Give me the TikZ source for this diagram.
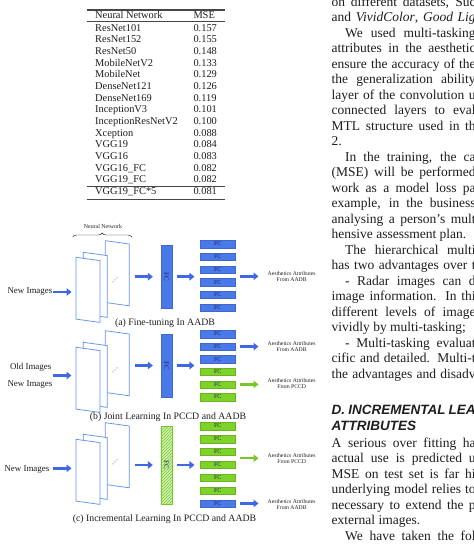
\documentclass[tikz,border=0pt]{standalone}
\usepackage{fontspec}
\setmainfont{Liberation Serif}
\newfontfamily\headfont{Liberation Sans}
\usetikzlibrary{arrows.meta,patterns,decorations.pathreplacing}

\definecolor{fcblue}{RGB}{74,122,234}
\definecolor{arblue}{RGB}{62,104,228}
\definecolor{fctext}{RGB}{25,35,95}
\definecolor{fcgreen}{RGB}{126,211,40}
\definecolor{argreen}{RGB}{118,200,40}
\definecolor{lightgreen}{RGB}{208,242,180}
\definecolor{panelblue}{RGB}{100,148,236}
\definecolor{ink}{RGB}{30,30,30}
\definecolor{rulegray}{RGB}{70,70,70}

\newcommand{\drawimgstack}[2]{%
  \draw[panelbox] ({#1+29.3},{#2-16.6}) -- ++(24,3.3) -- ++(0,61.8) -- ++(-24,-3.3) -- cycle;
  \draw[panelbox] ({#1+7.3},{#2-5}) -- ++(24,3.3) -- ++(0,61.8) -- ++(-24,-3.3) -- cycle;
  \draw[panelbox] (#1,#2) -- ++(24,3.3) -- ++(0,61.8) -- ++(-24,-3.3) -- cycle;
  \fill[ink] ({#1+37},{#2+24.5}) circle (0.45) ({#1+39},{#2+22.5}) circle (0.45) ({#1+41},{#2+20.5}) circle (0.45);
}

\begin{document}
\begin{tikzpicture}[x=1pt,y=-1pt,
  panelbox/.style={draw=panelblue,line width=0.75pt,fill=white,line join=round},
  fcbar/.style={draw=fcblue!85!black,line width=0.3pt,fill=fcblue,minimum width=11.6pt,inner sep=0pt,font=\fontsize{7}{7}\selectfont,text=fctext},
  fchatch/.style={draw=argreen,line width=0.4pt,fill=lightgreen,minimum width=11.6pt,inner sep=0pt,font=\fontsize{7}{7}\selectfont,text=fctext,
     postaction={pattern=north east lines,pattern color=argreen}},
  fcb/.style={draw=fcblue!85!black,line width=0.3pt,fill=fcblue,minimum width=35pt,minimum height=7.5pt,inner sep=0pt,font=\fontsize{6}{6}\selectfont,text=fctext},
  fcg/.style={fcb,fill=fcgreen,draw=fcgreen!85!black},
  barrow/.style={draw=arblue,line width=2.5pt,-{Triangle[length=5pt,width=7.5pt]}},
  garrow/.style={draw=argreen,line width=2.5pt,-{Triangle[length=5pt,width=7.5pt]}},
  lbl/.style={font=\fontsize{5.7}{6}\selectfont,align=center,text=ink,inner sep=0pt},
  intext/.style={font=\fontsize{8.9}{9}\selectfont,text=ink,inner sep=0pt},
  capt/.style={font=\fontsize{9.8}{10}\selectfont,text=ink,inner sep=0pt},
  tcell/.style={anchor=base west,inner sep=0pt,font=\fontsize{10.4}{11}\selectfont,text=ink},
  rtext/.style={anchor=base west,inner sep=0pt,font=\fontsize{13.5}{15}\selectfont,text=ink},
  rhead/.style={anchor=base west,inner sep=0pt,font=\headfont\bfseries\itshape\fontsize{13.5}{15}\selectfont,text=ink}
]
\useasboundingbox (0,0) rectangle (474,544);
\fill[white] (0,0) rectangle (474,544);

% ---------------- table ----------------
\draw[rulegray,line width=1.2pt] (86.7,10) -- (225,10);
\draw[rulegray,line width=0.6pt] (86.7,21.7) -- (225,21.7);
\draw[rulegray,line width=0.6pt] (86.7,186.7) -- (225,186.7);
\draw[rulegray,line width=1.2pt] (86.7,199.3) -- (225,199.3);
\node[tcell] (th1) at (95,18.4) {Neural Network};
\node[tcell] (th2) at (193.3,18.4) {MSE};
\foreach \nm/\vl [count=\i] in {ResNet101/0.157,ResNet152/0.155,ResNet50/0.148,MobileNetV2/0.133,MobileNet/0.129,DenseNet121/0.126,DenseNet169/0.119,InceptionV3/0.101,InceptionResNetV2/0.100,Xception/0.088,VGG19/0.084,VGG16/0.083,VGG16\_FC/0.082,VGG19\_FC/0.082,VGG19\_FC*5/0.081}{
  \node[tcell] (tn\i) at (95,{31.1+11.67*(\i-1)}) {\nm};
  \node[tcell] (tv\i) at (193.3,{31.1+11.67*(\i-1)}) {\vl};
}

% ---------------- diagram ----------------
\node[font=\fontsize{5.9}{6}\selectfont,text=ink,inner sep=0pt] (nnlabel) at (103,226.5) {Neural Network};
\draw[ink,line width=0.45pt,decorate,decoration={brace,amplitude=4pt}] (72.7,237) -- (131.7,237);

\drawimgstack{76}{257.3}
\drawimgstack{76}{347.3}
\drawimgstack{76}{439.3}

% (a)
\node[intext,anchor=east] (nia) at (52.5,292) {New Images};
\coordinate (ea) at (71.5,292);
\draw[barrow,shorten <=0.8pt] (nia.east) -- (ea);
\node[fcbar,minimum height=63.3pt] (bara) at (166.5,276.7) {\rotatebox{-90}{FC}};
\coordinate (pa) at (135,276.7);
\draw[barrow,shorten >=7.7pt] (pa) -- (bara.west);
\foreach \i in {1,...,6}{ \node[fcb] (sa\i) at (217.8,{244+12.7*(\i-1)}) {FC}; }
\draw[barrow,shorten <=4.4pt,shorten >=5.7pt] (bara.east) -- (bara.east -| sa1.west);
\node[lbl,anchor=west] (la) at (267.5,276.3) {Aesthetics Attributes\\From AADB};
\coordinate (oa) at (240,276.3);
\draw[barrow,shorten >=9pt] (oa) -- (la.west);
\node[capt] (capa) at (165,323.5) {(a) Fine-tuning In AADB};

% (b)
\node[intext,anchor=east] (oib) at (51.5,367.7) {Old Images};
\node[intext,anchor=east] (nib) at (52.5,384.3) {New Images};
\coordinate (sbi) at (53,375.5);
\coordinate (ebi) at (71.5,375.5);
\draw[barrow] (sbi) -- (ebi);
\node[fcbar,minimum height=62.4pt] (barb) at (166.5,365.5) {\rotatebox{-90}{FC}};
\coordinate (pb) at (135,365.5);
\draw[barrow,shorten >=7.7pt] (pb) -- (barb.west);
\foreach \i/\s in {1/fcb,2/fcb,3/fcb,4/fcg,5/fcg,6/fcg}{ \node[\s] (sb\i) at (217.8,{334+12.6*(\i-1)}) {FC}; }
\draw[barrow,shorten <=4.4pt,shorten >=5.7pt] (barb.east) -- (barb.east -| sb1.west);
\node[lbl,anchor=west] (lb1) at (267.5,347) {Aesthetics Attributes\\From AADB};
\node[lbl,anchor=west] (lb2) at (267.5,383.7) {Aesthetics Attributes\\From PCCD};
\draw[barrow,shorten <=5pt,shorten >=9pt] (sb2.east) -- (sb2.east -| lb1.west);
\draw[garrow,shorten <=5pt,shorten >=9pt] (sb5.east) -- (sb5.east -| lb2.west);
\node[capt] (capb) at (168,417.5) {(b) Joint Learning In PCCD and AADB};

% (c)
\node[intext,anchor=east] (nic) at (49.5,469.3) {New Images};
\coordinate (sci) at (53,468.3);
\coordinate (eci) at (71.5,468.3);
\draw[barrow] (sci) -- (eci);
\node[fchatch,minimum height=78pt] (barc) at (166.5,465) {\rotatebox{-90}{FC}};
\coordinate (pc) at (135,465);
\draw[barrow,shorten >=7.7pt] (pc) -- (barc.west);
\foreach \i/\s in {1/fcg,2/fcg,3/fcg,4/fcg,5/fcg,6/fcg,7/fcb}{ \node[\s] (sc\i) at (217.8,{426+12.9*(\i-1)}) {FC}; }
\draw[barrow,shorten <=4.4pt,shorten >=5.7pt] (barc.east) -- (barc.east -| sc1.west);
\node[lbl,anchor=west] (lc1) at (267.5,458.2) {Aesthetics Attributes\\From PCCD};
\node[lbl,anchor=west] (lc2) at (267.5,504.7) {Aesthetics Attributes\\From AADB};
\coordinate (oc) at (240,458.2);
\draw[garrow,shorten >=9pt] (oc) -- (lc1.west);
\draw[barrow,shorten <=5pt,shorten >=9pt] (sc7.east) -- (sc7.east -| lc2.west);
\node[capt] (capc) at (164.5,519.5) {(c) Incremental Learning In PCCD and AADB};

% ---------------- right column text ----------------
\begin{scope}
\clip (0,0) rectangle (474,544);
\def\fw{144pt}
\def\iw{130.5pt}
\node[rtext] (r1) at (331.5,6) {\makebox[\fw][s]{on different datasets, Suc}};
\node[rtext] (r2) at (331.5,21.5) {\makebox[\fw][s]{and \textit{VividColor}, \textit{Good Lig}}};
\node[rtext] (r3) at (345,37) {\makebox[\iw][s]{We used multi-tasking}};
\node[rtext] (r4) at (331.5,52.5) {\makebox[\fw][s]{attributes in the aesthetic}};
\node[rtext] (r5) at (331.5,68) {\makebox[\fw][s]{ensure the accuracy of the}};
\node[rtext] (r6) at (331.5,83.5) {\makebox[\fw][s]{the generalization ability}};
\node[rtext] (r7) at (331.5,99) {\makebox[\fw][s]{layer of the convolution u}};
\node[rtext] (r8) at (331.5,114.5) {\makebox[\fw][s]{connected layers to eval}};
\node[rtext] (r9) at (331.5,130) {\makebox[\fw][s]{MTL structure used in th}};
\node[rtext] (r10) at (331.5,145.5) {2.};
\node[rtext] (r11) at (345,161) {\makebox[\iw][s]{In the training, the ca}};
\node[rtext] (r12) at (331.5,176.5) {\makebox[\fw][s]{(MSE) will be performed}};
\node[rtext] (r13) at (331.5,192) {\makebox[\fw][s]{work as a model loss pa}};
\node[rtext] (r14) at (331.5,207.5) {\makebox[\fw][s]{example, in the business}};
\node[rtext] (r15) at (331.5,223) {\makebox[\fw][s]{analysing a person's mult}};
\node[rtext] (r16) at (331.5,238.5) {hensive assessment plan.};
\node[rtext] (r17) at (345,254) {\makebox[\iw][s]{The hierarchical multi}};
\node[rtext] (r18) at (331.5,269.5) {\makebox[\fw][s]{has two advantages over t}};
\node[rtext] (r19) at (345,285) {\makebox[\iw][s]{- Radar images can d}};
\node[rtext] (r20) at (331.5,300.5) {\makebox[\fw][s]{image information. In thi}};
\node[rtext] (r21) at (331.5,316) {\makebox[\fw][s]{different levels of image}};
\node[rtext] (r22) at (331.5,331.5) {vividly by multi-tasking;};
\node[rtext] (r23) at (345,347) {\makebox[\iw][s]{- Multi-tasking evaluat}};
\node[rtext] (r24) at (331.5,362.5) {\makebox[\fw][s]{cific and detailed. Multi-t}};
\node[rtext] (r25) at (331.5,378) {\makebox[\fw][s]{the advantages and disadv}};
\node[rhead] (r26) at (331.5,414) {\makebox[\fw][s]{D. INCREMENTAL LEA}};
\node[rhead] (r27) at (331.5,430) {ATTRIBUTES};
\node[rtext] (r28) at (331.5,447) {\makebox[\fw][s]{A serious over fitting ha}};
\node[rtext] (r29) at (331.5,462.5) {\makebox[\fw][s]{actual use is predicted u}};
\node[rtext] (r30) at (331.5,478) {\makebox[\fw][s]{MSE on test set is far hi}};
\node[rtext] (r31) at (331.5,493.5) {\makebox[\fw][s]{underlying model relies to}};
\node[rtext] (r32) at (331.5,509) {\makebox[\fw][s]{necessary to extend the p}};
\node[rtext] (r33) at (331.5,524.5) {external images.};
\node[rtext] (r34) at (345,540) {\makebox[\iw][s]{We have taken the fol}};
\end{scope}
\end{tikzpicture}
\end{document}
